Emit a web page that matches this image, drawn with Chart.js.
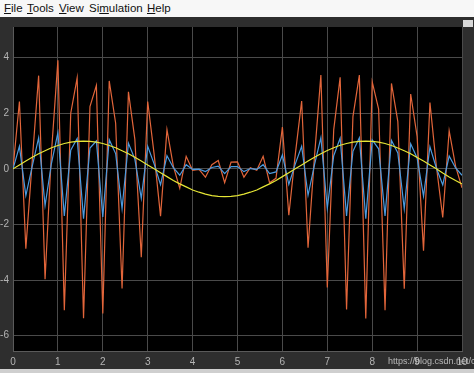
<!DOCTYPE html>
<html>
<head>
<meta charset="utf-8">
<script src="https://cdn.jsdelivr.net/npm/chart.js@4/dist/chart.umd.min.js"></script>
<style>
  body { margin: 0; width: 474px; height: 373px; overflow: hidden; background: #2e2e2e; position: relative; font-family: "Liberation Sans", "DejaVu Sans", sans-serif; }
  #menu { position: absolute; left: 0; top: 0; width: 474px; height: 17px; background: #f7f7f7; font-size: 11.5px; color: #111; }
  #menu span { position: absolute; top: 1px; line-height: 15px; }
  #wrap { position: absolute; left: 0; top: 17px; width: 474px; height: 352px; }
  #foot { position: absolute; left: 0; top: 369px; width: 474px; height: 4px; background: #cfcfcf; }
  #icon { position: absolute; left: 463px; top: 20px; width: 10px; height: 7px; background: #d8d8d8; }
  #mark { position: absolute; left: 388px; top: 356px; font-size: 9px; color: rgba(235,235,235,0.7); }
</style>
</head>
<body>
<div id="menu">
  <span style="left:4px"><u>F</u>ile</span>
  <span style="left:27px"><u>T</u>ools</span>
  <span style="left:59px"><u>V</u>iew</span>
  <span style="left:89px">Si<u>m</u>ulation</span>
  <span style="left:147px"><u>H</u>elp</span>
</div>
<div id="wrap"><canvas id="grafico" width="474" height="352"></canvas></div>
<div id="icon"></div>
<div id="foot"></div>
<div id="mark">https://blog.csdn.net/clichu</div>
<script>
// Tiempos de muestreo (s), paso ~1/7 s
const tiempos = [
  0, 0.143, 0.286, 0.429, 0.571, 0.714, 0.857, 1.0, 1.143, 1.286,
  1.429, 1.571, 1.714, 1.857, 2.0, 2.143, 2.286, 2.429, 2.571, 2.714,
  2.857, 3.0, 3.143, 3.286, 3.429, 3.571, 3.714, 3.857, 4.0, 4.143,
  4.286, 4.429, 4.571, 4.714, 4.857, 5.0, 5.143, 5.286, 5.429, 5.571,
  5.714, 5.857, 6.0, 6.143, 6.286, 6.429, 6.571, 6.714, 6.857, 7.0,
  7.143, 7.286, 7.429, 7.571, 7.714, 7.857, 8.0, 8.143, 8.286, 8.429,
  8.571, 8.714, 8.857, 9.0, 9.143, 9.286, 9.429, 9.571, 9.714, 9.857, 10.0
];

// Señal amarilla (senoidal lenta)
const senalAmarilla = [
  0.00, 0.14, 0.28, 0.42, 0.54, 0.65, 0.76, 0.84, 0.91, 0.96,
  0.99, 1.00, 0.99, 0.96, 0.91, 0.84, 0.76, 0.65, 0.54, 0.42,
  0.28, 0.14, 0.00, -0.14, -0.28, -0.42, -0.54, -0.65, -0.76, -0.84,
  -0.91, -0.96, -0.99, -1.00, -0.99, -0.96, -0.91, -0.84, -0.76, -0.65,
  -0.54, -0.42, -0.28, -0.14, 0.00, 0.14, 0.28, 0.42, 0.54, 0.66,
  0.76, 0.85, 0.91, 0.96, 0.99, 1.00, 0.99, 0.96, 0.91, 0.84,
  0.75, 0.65, 0.54, 0.41, 0.28, 0.14, 0.00, -0.15, -0.29, -0.42, -0.54
];

// Señal azul
const senalAzul = [
  0.00, 0.81, -0.96, 0.10, 1.12, -1.32, 0.20, 1.30, -1.69, 0.67,
  1.09, -1.79, 0.75, 1.00, -1.73, 1.05, 0.55, -1.43, 0.92, 0.35,
  -1.06, 0.81, 0.18, -0.57, 0.47, 0.04, -0.23, 0.15, -0.02, -0.01,
  -0.10, 0.05, 0.10, -0.17, 0.08, 0.08, -0.10, 0.01, -0.02, 0.15,
  -0.17, -0.11, 0.50, -0.56, 0.17, 0.81, -0.95, 0.14, 1.12, -1.42,
  0.47, 1.10, -1.69, 0.63, 1.12, -1.79, 1.04, 0.72, -1.69, 1.02,
  0.57, -1.44, 0.90, 0.39, -0.98, 0.79, 0.03, -0.58, 0.46, 0.03, -0.23
];

// Señal naranja
const senalNaranja = [
  0.00, 2.42, -2.87, 0.30, 3.35, -3.97, 0.60, 3.90, -5.08, 2.00,
  3.27, -5.37, 2.24, 3.00, -5.20, 3.16, 1.64, -4.30, 2.77, 1.06,
  -3.18, 2.42, 0.53, -1.70, 1.41, 0.10, -0.70, 0.45, -0.05, -0.02,
  -0.30, 0.15, 0.30, -0.50, 0.24, 0.25, -0.30, 0.04, -0.05, 0.45,
  -0.50, -0.34, 1.50, -1.67, 0.50, 2.44, -2.84, 0.43, 3.37, -4.27,
  1.41, 3.29, -5.06, 1.88, 3.37, -5.38, 3.13, 2.15, -5.08, 3.07,
  1.70, -4.31, 2.69, 1.17, -2.94, 2.38, 0.10, -1.75, 1.37, 0.10, -0.68
];

const ticksX = [0, 1, 2, 3, 4, 5, 6, 7, 8, 9, 10];
const ticksY = [-6, -4, -2, 0, 2, 4];

function puntos(valores) {
  return tiempos.map((t, i) => ({ x: t, y: valores[i] }));
}

const linea = (datos, color) => ({
  data: puntos(datos),
  borderColor: color,
  borderWidth: 1.2,
  pointRadius: 0,
  tension: 0,
  fill: false
});

const colorEje = '#b4b4b4';
const colorGrid = '#4a4a4a';

let chart;
window.onload = function() {
  const ctx = document.getElementById('grafico').getContext('2d');
  chart = new Chart(ctx, {
    type: 'line',
    data: {
      datasets: [
        linea(senalAmarilla, '#e6e635'),
        linea(senalAzul, '#4b9be0'),
        linea(senalNaranja, '#e2653a')
      ]
    },
    options: {
      responsive: false,
      animation: false,
      layout: { padding: { top: 8, right: 12, left: 0, bottom: 0 } },
      plugins: { legend: { display: false }, tooltip: { enabled: false } },
      scales: {
        x: {
          type: 'linear',
          min: 0, max: 10,
          afterBuildTicks: s => { s.ticks = ticksX.map(v => ({ value: v })); },
          afterFit: s => { s.height = 18; },
          grid: { color: colorGrid, drawTicks: false },
          border: { color: '#5a5a5a' },
          ticks: { color: colorEje, padding: 5, maxRotation: 0, font: { family: 'Liberation Sans', size: 10 } }
        },
        y: {
          min: -6.55, max: 5.1,
          afterBuildTicks: s => { s.ticks = ticksY.map(v => ({ value: v })); },
          afterFit: s => { s.width = 13; },
          grid: { color: colorGrid, drawTicks: false },
          border: { color: '#5a5a5a' },
          ticks: { color: colorEje, padding: 4, font: { family: 'Liberation Sans', size: 10 } }
        }
      }
    },
    plugins: [{
      id: 'fondoNegro',
      beforeDraw(c) {
        const a = c.chartArea;
        c.ctx.save();
        c.ctx.fillStyle = '#000';
        c.ctx.fillRect(a.left, a.top, a.right - a.left, a.bottom - a.top);
        c.ctx.restore();
      }
    }]
  });
};
</script>
</body>
</html>
